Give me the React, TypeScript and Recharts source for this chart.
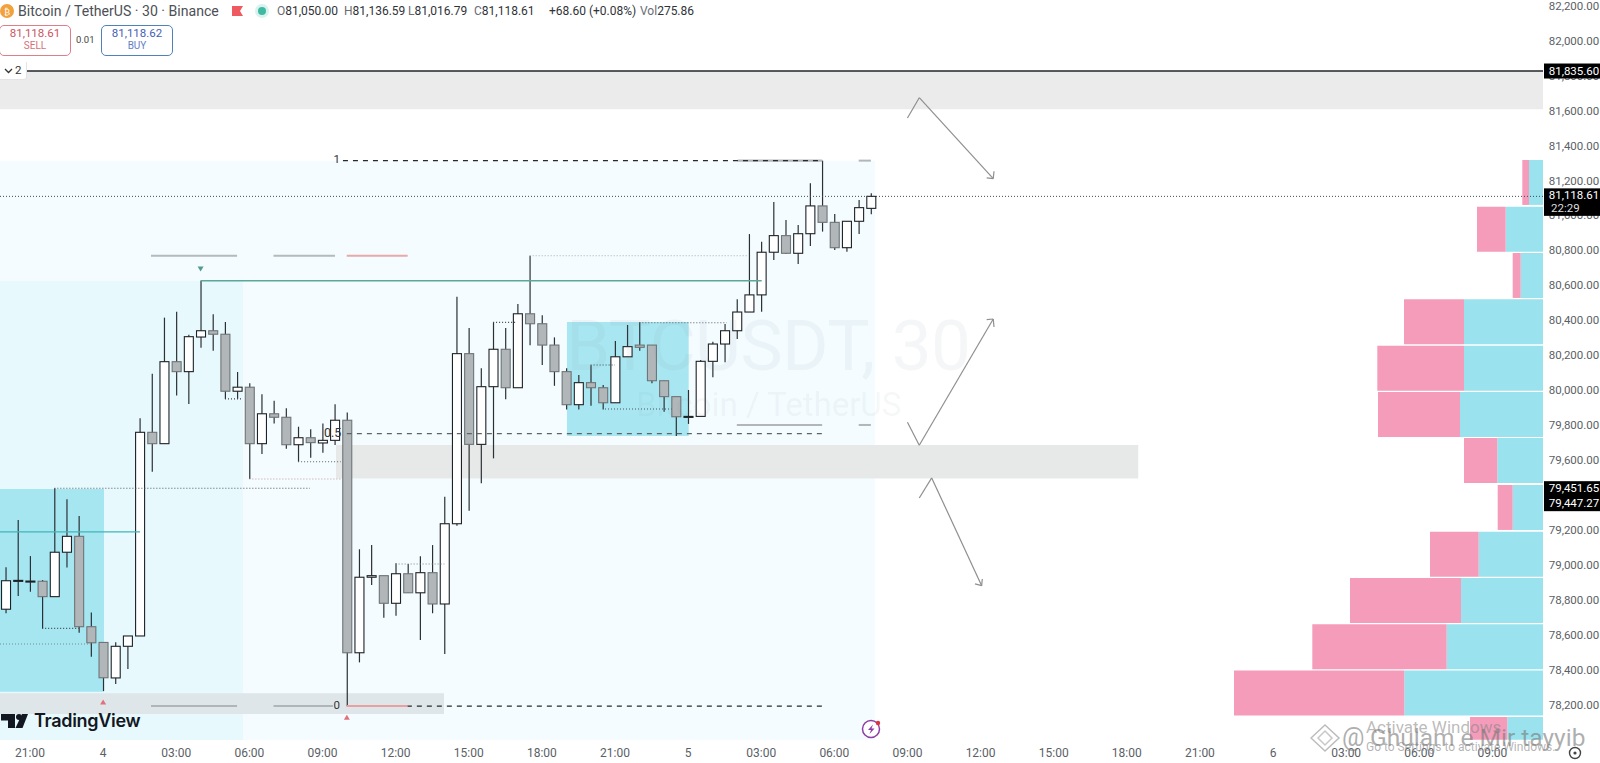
import React from 'react';
import { ComposedChart, Bar, XAxis, YAxis, ReferenceArea, ReferenceLine, ReferenceDot } from 'recharts';

// half-hour candle index, 0 = 21:00 on the 3rd
const firstCandle = -2;
const opens = [
  78757,78918,78915,78917,78829,79083,79174,78657,78567,78364,
  78545,78604,79769,79704,80173,80116,80314,80350,80330,80004,
  80027,79704,79875,79855,79698,79738,79708,79723,79838,78508,
  78940,78949,78791,78960,78851,78966,78787,79246,80219,79700,
  80030,80244,80024,80447,80390,80268,80116,79927,80053,80024,
  79938,80201,80268,80268,80064,79973,79856,79860,80175,80274,
  80350,80457,80555,80799,80894,80793,80905,81064,80970,80825,
  80976,81050,
];
const highs = [
  78997,79267,79061,78924,79449,79386,79290,78739,78567,78568,
  78604,79849,80104,80425,80459,80327,80636,80444,80400,80114,
  80049,79986,79950,79906,79801,79786,79820,79929,79883,79100,
  79124,78949,79020,79016,79060,79124,79401,80545,80366,80135,
  80398,80366,80503,80779,80438,80312,80135,80097,80152,80040,
  80291,80383,80398,80268,80064,79973,80011,80183,80287,80389,
  80530,80903,80859,81087,80984,80955,81194,81323,81018,80976,
  81098,81136.59,
];
const lows = [
  78734,78833,78857,78648,78829,78995,78623,78485,78289,78329,
  78415,78604,79544,79704,79979,79931,80253,80236,79960,79960,
  79502,79645,79820,79675,79601,79624,79652,79696,78203,78453,
  78895,78708,78720,78851,78581,78734,78501,79235,79320,79477,
  79620,79958,80024,80267,80154,80035,79900,79900,79921,79900,
  79938,80201,80236,80049,79887,79748,79817,79860,80084,80170,
  80303,80457,80459,80755,80789,80732,80835,80917,80812,80802,
  80903,81016.79,
];
const closes = [
  78920,78922,78918,78829,79083,79174,78657,78565,78365,78545,
  78604,79769,79704,80173,80116,80316,80350,80330,80004,80027,
  79704,79875,79855,79698,79738,79710,79723,79838,78508,78940,
  78949,78791,78960,78851,78966,78787,79246,80219,79700,80030,
  80244,80024,80447,80390,80268,80116,79927,80053,80024,79938,
  80201,80259,80255,80064,79973,79858,79860,80175,80274,80350,
  80457,80555,80799,80894,80793,80905,81064,80970,80825,80976,
  81054,81118.61,
];

const timeTicks = [0,6,12,18,24,30,36,42,48,54,60,66,72,78,84,90,96,102,108,114,120];
const timeLabels = ['21:00','4','03:00','06:00','09:00','12:00','15:00','18:00','21:00','5','03:00','06:00','09:00','12:00','15:00','18:00','21:00','6','03:00','06:00','09:00'];
const priceTicks = [78200,78400,78600,78800,79000,79200,79400,79600,79800,80000,80200,80400,80600,80800,81000,81200,81400,81600,81800,82000,82200];
const tagPrices = [81835.6, 81118.61, 79449.46];

// volume profile rows
const profileTop = [81326.6,81059.5,80794.6,80529.8,80264.4,79999.6,79736.4,79467.6,79200.5,78935.6,78670.8,78406.5,78140.6];
const profileBottom = [81069.6,80802.5,80537.6,80272.8,80007.4,79742.6,79479.4,79210.6,78943.5,78678.6,78413.8,78149.5,78010];
const profileBuy = [14,37.3,22.3,79,79,83,45.7,30.3,64.3,82,96.3,138.7,35.7];
const profileSell = [6.7,28.7,8,60,86.7,82,33.3,15,48.7,111,134.4,170.3,37.3];

const T0 = -2.4617, T1 = 124.15;
const P0 = 78009, P1 = 82241.8;
// the profile grows leftwards from the right edge of the plot
const volumePerCandle = 12.187;
const volX = (v: number) => T1 - v / volumePerCandle;

const rows = opens.map((o, i) => ({ t: firstCandle + i, o, h: highs[i], l: lows[i], c: closes[i] }));

const Candle = (props: any) => {
  const { x, y, width, height, payload } = props;
  const { o, h, l, c } = payload;
  const k = height / (h - l);
  const py = (p: number) => y + (h - p) * k;
  const cx = x + width / 2;
  const up = c >= o;
  const top = py(Math.max(o, c));
  const bot = py(Math.min(o, c));
  return (
    <g>
      <line x1={cx} x2={cx} y1={y} y2={y + height} stroke="#2b3034" strokeWidth={1.2} />
      <rect x={cx - 4.5} y={top} width={9} height={Math.max(bot - top, 1)} fill={up ? '#ffffff' : '#b1b6b8'} stroke={up ? '#1d2226' : '#6f7477'} strokeWidth={1.1} />
    </g>
  );
};

const fmt = (v: number) => v.toLocaleString('en-US', { minimumFractionDigits: 2, maximumFractionDigits: 2 });

const PriceTick = (props: any) => {
  const { y, payload } = props;
  const v = payload.value;
  const common = { fontFamily: 'Roboto, sans-serif', fontSize: 11.5 };
  if (v === 81835.6) {
    return <g><rect x={1544} y={y - 7.5} width={56} height={15} fill="#000" /><text x={1574} y={y} textAnchor="middle" dominantBaseline="central" fill="#fff" {...common}>81,835.60</text></g>;
  }
  if (v === 81118.61) {
    return <g><rect x={1544} y={y - 8} width={56} height={27.5} fill="#000" /><text x={1574} y={y - 1} textAnchor="middle" dominantBaseline="central" fill="#fff" {...common}>81,118.61</text><text x={1551} y={y + 11.5} dominantBaseline="central" fill="#ddd" {...common}>22:29</text></g>;
  }
  if (v === 79449.46) {
    return <g><rect x={1544} y={y - 7} width={56} height={30} fill="#000" /><text x={1574} y={y} textAnchor="middle" dominantBaseline="central" fill="#fff" {...common}>79,451.65</text><text x={1574} y={y + 15} textAnchor="middle" dominantBaseline="central" fill="#fff" {...common}>79,447.27</text></g>;
  }
  return <text x={1574} y={y - 1.6} textAnchor="middle" dominantBaseline="central" fill="#5b5f66" {...common}>{fmt(v)}</text>;
};

const TimeTick = (props: any) => {
  const { x, payload } = props;
  const label = timeLabels[timeTicks.indexOf(payload.value)];
  return <text x={x} y={752.7} textAnchor="middle" dominantBaseline="central" fill="#5b5f66" fontFamily="Roboto, sans-serif" fontSize={12}>{label}</text>;
};

type Seg = [number, number, number, number, string, number, string?];
const segments: Seg[] = [
  [T0, 81118.61, T1, 81118.61, '#444a50', 1, '1 2'],
  [T0, 81835.6, T1, 81835.6, '#20242a', 1.4],
  [58.07, 81323, 65, 81323, '#b3b6b8', 2.2],
  [25.68, 81323, 65, 81323, '#26292d', 1.1, '5 5'],
  [26, 78203, 65, 78203, '#26292d', 1.1, '5 5'],
  [26, 79761, 65, 79761, '#5e6367', 1.3, '5 5'],
  [14, 80636, 60.04, 80636, '#5aa89a', 1.3],
  [T0, 79200, 9.03, 79200, '#3fb6b8', 1.2],
  [2, 79449, 22.97, 79449, '#50555a', 1.2, '1 2'],
  [1, 78648, 4, 78648, '#40464b', 1.2, '1 2'],
  [T0, 78558, 5, 78558, '#7d8a8e', 1, '1 2'],
  [16, 79960, 17.48, 79960, '#40464b', 1.2, '1 2'],
  [22, 79601, 25.5, 79601, '#5a5f64', 1.1, '1 2'],
  [18, 79502, 25.5, 79502, '#c09a9a', 1.1, '1 2'],
  [41, 80779, 58.8, 80779, '#a9adb0', 1, '1 2'],
  [38, 80398, 39.85, 80398, '#40464b', 1.1, '1 2'],
  [30, 79016, 34, 79016, '#7f8488', 1.1, '1 2'],
  [50, 80396, 57.17, 80396, '#5a5f64', 1.1, '1 2'],
  [46, 80154, 48, 80154, '#40464b', 1.1, '1 2'],
  [47.18, 79902, 52.65, 79902, '#4c5156', 1.1, '1 2'],
  [9.93, 80779, 16.99, 80779, '#b5babb', 2],
  [19.98, 80779, 25.03, 80779, '#b5babb', 2],
  [25.99, 80779, 30.99, 80779, '#e8a9a9', 2],
  [9.93, 78203, 16.99, 78203, '#b0b6b8', 2],
  [19.98, 78203, 24.86, 78203, '#b0b6b8', 2],
  [25.99, 78203, 30.99, 78203, '#e8a0a0', 2],
  [58, 79811, 65, 79811, '#b3b6b8', 2],
  [68, 79811, 69, 79811, '#b3b6b8', 2],
  [68, 81323, 69, 81323, '#b3b6b8', 2],
  // arrows
  [72, 81567, 72.97, 81683, '#8f8f8f', 1.2],
  [72.97, 81683, 79.04, 81220, '#8f8f8f', 1.2],
  [79.1, 81262, 79.04, 81220, '#8f8f8f', 1.2],
  [78.5, 81224, 79.04, 81220, '#8f8f8f', 1.2],
  [72, 79827, 72.97, 79695, '#8f8f8f', 1.2],
  [72.97, 79695, 79.04, 80417, '#8f8f8f', 1.2],
  [78.5, 80414, 79.04, 80417, '#8f8f8f', 1.2],
  [79.1, 80371, 79.04, 80417, '#8f8f8f', 1.2],
  [72.97, 79393, 73.99, 79508, '#8f8f8f', 1.2],
  [73.99, 79508, 78.09, 78892, '#8f8f8f', 1.2],
  [77.54, 78902, 78.09, 78892, '#8f8f8f', 1.2],
  [78.14, 78930, 78.09, 78892, '#8f8f8f', 1.2],
];

type Zone = [number, number, number, number, string];
const zones: Zone[] = [
  [T0, 69.34, P0, 81323, '#f4fcff'],
  [T0, 17.48, P0, 80636, '#e8f9fe'],
  [T0, 6.07, 78285, 79445, '#a5e6f1'],
  [44.06, 54.05, 79748, 80400, '#a8e7f1'],
  [T0, T1, 81616.6, 81835.6, '#ebebeb'],
  [25.11, 90.94, 79504.8, 79696.4, '#e7e9e9'],
  [T0, 33.97, 78158, 78276, '#dfe6ea'],
];

const Tri = (color: string, down: boolean) => (props: any) => {
  const { cx, cy } = props;
  const d = down ? `M${cx - 3} ${cy - 2.5}H${cx + 3}L${cx} ${cy + 2.5}Z` : `M${cx - 3} ${cy + 2.5}H${cx + 3}L${cx} ${cy - 2.5}Z`;
  return <path d={d} fill={color} />;
};

const abs = (style: React.CSSProperties): React.CSSProperties => ({ position: 'absolute', whiteSpace: 'nowrap', fontFamily: 'Roboto, sans-serif', lineHeight: 1, ...style });

const Ohlc = ({ x, k, v }: { x: number; k: string; v: string }) => (
  <div style={abs({ left: x, top: 5, fontSize: 12, color: '#2f3338' })}><span style={{ color: '#6a6d73' }}>{k}</span>{v}</div>
);

export default function App() {
  return (
    <div style={{ position: 'absolute', left: 0, top: 0, width: 1600, height: 763, overflow: 'hidden', background: '#fff' }}>
      <ComposedChart width={1600} height={763} data={rows} margin={{ top: 0, right: 0, bottom: 0, left: 0 }} barSize={9}>
        <XAxis dataKey="t" type="number" scale="linear" domain={[T0, T1]} allowDataOverflow ticks={timeTicks} interval={0} height={23} axisLine={false} tickLine={false} tick={<TimeTick />} />
        <YAxis orientation="right" width={57} type="number" domain={[P0, P1]} allowDataOverflow ticks={[...priceTicks, ...tagPrices]} interval={0} axisLine={false} tickLine={false} tick={<PriceTick />} />
        {zones.map((z, i) => (
          <ReferenceArea key={'z' + i} x1={z[0]} x2={z[1]} y1={z[2]} y2={z[3]} fill={z[4]} fillOpacity={1} stroke="none" ifOverflow="visible" />
        ))}
        {profileTop.map((top, i) => (
          <ReferenceArea key={'b' + i} x1={volX(profileBuy[i])} x2={T1} y1={profileBottom[i]} y2={top} fill="#9ae3ee" fillOpacity={1} stroke="none" ifOverflow="visible" />
        ))}
        {profileTop.map((top, i) => (
          <ReferenceArea key={'s' + i} x1={volX(profileBuy[i] + profileSell[i])} x2={volX(profileBuy[i])} y1={profileBottom[i]} y2={top} fill="#f49cba" fillOpacity={1} stroke="none" ifOverflow="visible" />
        ))}
        <Bar dataKey={(d: any) => [d.l, d.h]} shape={<Candle />} isAnimationActive={false} />
        {segments.map((s, i) => (
          <ReferenceLine key={'l' + i} segment={[{ x: s[0], y: s[1] }, { x: s[2], y: s[3] }]} stroke={s[4]} strokeWidth={s[5]} strokeDasharray={s[6]} ifOverflow="visible" />
        ))}
        <ReferenceDot x={14} y={80703} r={3} shape={Tri('#4f9d8f', true)} ifOverflow="visible" />
        <ReferenceDot x={6} y={78226} r={3} shape={Tri('#e0707c', false)} ifOverflow="visible" />
        <ReferenceDot x={26} y={78139} r={3} shape={Tri('#e0707c', false)} ifOverflow="visible" />
      </ComposedChart>

      {/* chart watermark */}
      <div style={abs({ left: 566, top: 310, fontSize: 71, letterSpacing: -0.6, color: 'rgba(120,135,150,0.075)' })}>BTCUSDT, 30</div>
      <div style={abs({ left: 636, top: 388, fontSize: 33, color: 'rgba(120,135,150,0.08)' })}>Bitcoin / TetherUS</div>

      {/* fib labels */}
      <div style={abs({ left: 333.5, top: 154, fontSize: 11.5, color: '#333' })}>1</div>
      <div style={abs({ left: 324, top: 427, fontSize: 12.5, color: '#333' })}>0.5</div>
      <div style={abs({ left: 333.5, top: 700, fontSize: 11.5, color: '#333' })}>0</div>

      {/* header */}
      <svg style={{ position: 'absolute', left: 0, top: 0 }} width={300} height={24}>
        <circle cx={7} cy={11} r={7} fill="#f2a13c" />
        <text x={7} y={14.5} textAnchor="middle" fontSize={9} fill="#fff" fontFamily="Roboto">₿</text>
        <path d="M232 6H243L240 11L243 16H232Z" fill="#ee5a5f" />
        <circle cx={262} cy={11} r={7} fill="#d8f3ee" />
        <circle cx={262} cy={11} r={4} fill="#3fb9a1" />
      </svg>
      <div style={abs({ left: 18, top: 4, fontSize: 14.1, color: '#4d5056' })}>Bitcoin / TetherUS · 30 · Binance</div>
      <Ohlc x={277} k="O" v="81,050.00" />
      <Ohlc x={344} k="H" v="81,136.59" />
      <Ohlc x={408} k="L" v="81,016.79" />
      <Ohlc x={474} k="C" v="81,118.61" />
      <div style={abs({ left: 549, top: 5, fontSize: 12, color: '#2f3338' })}>+68.60 (+0.08%)</div>
      <Ohlc x={640} k="Vol" v="275.86" />

      <div style={{ position: 'absolute', left: -1, top: 25, width: 70, height: 29, border: '1px solid #dc7f8a', borderRadius: 5, background: '#fff' }} />
      <div style={abs({ left: 0, width: 70, textAlign: 'center', top: 28, fontSize: 11.5, color: '#c9545f' })}>81,118.61</div>
      <div style={abs({ left: 0, width: 70, textAlign: 'center', top: 41, fontSize: 10, color: '#d66f78' })}>SELL</div>
      <div style={abs({ left: 76, top: 35, fontSize: 9.5, color: '#444' })}>0.01</div>
      <div style={{ position: 'absolute', left: 101, top: 25, width: 70, height: 29, border: '1px solid #4f82b8', borderRadius: 5, background: '#fff' }} />
      <div style={abs({ left: 101, width: 72, textAlign: 'center', top: 28, fontSize: 11.5, color: '#3f62b5' })}>81,118.62</div>
      <div style={abs({ left: 101, width: 72, textAlign: 'center', top: 41, fontSize: 10, color: '#5f7fc4' })}>BUY</div>

      <div style={{ position: 'absolute', left: 0, top: 62, width: 26, height: 17, background: '#fff', borderRight: '1px solid #e4e4e4', borderBottom: '1px solid #e4e4e4', borderRadius: '0 0 3px 0' }} />
      <svg style={{ position: 'absolute', left: 4, top: 67 }} width={10} height={8}><path d="M1 2L4.5 5.5L8 2" fill="none" stroke="#333" strokeWidth={1.3} /></svg>
      <div style={abs({ left: 15, top: 65, fontSize: 11.5, color: '#333' })}>2</div>

      {/* logo */}
      <svg style={{ position: 'absolute', left: 0, top: 0 }} width={32} height={740}>
        <path d="M1 714H15V728H8V720.5H1Z" fill="#131722" />
        <circle cx={19} cy={717} r={3} fill="#131722" />
        <path d="M22 714H28L22.5 728H15.5Z" fill="#131722" />
      </svg>
      <div style={abs({ left: 34, top: 712, fontSize: 18, fontWeight: 600, color: '#131722', fontFamily: 'Inter, sans-serif', letterSpacing: -0.3 })}>TradingView</div>

      {/* badge */}
      <svg style={{ position: 'absolute', left: 858, top: 716 }} width={28} height={28}>
        <circle cx={13} cy={13} r={8.5} fill="#fff" stroke="#8e3fa5" strokeWidth={1.5} />
        <path d="M15 8.5L10 14H13L11.5 18L16.5 12.5H13.5Z" fill="#8e3fa5" />
        <circle cx={20} cy={7} r={2.2} fill="#d9363e" />
      </svg>

      {/* settings icon and signature */}
      <svg style={{ position: 'absolute', left: 1310, top: 720 }} width={290} height={43}>
        <path d="M13 5L27 18L13 31L-1 18Z" transform="translate(2 0)" fill="none" stroke="#bcbcbc" strokeWidth={1.5} />
        <path d="M15 11L22 18L15 25L8 18Z" fill="none" stroke="#c8c8c8" strokeWidth={1.5} />
        <circle cx={265} cy={33} r={5.5} fill="none" stroke="#444" strokeWidth={1.4} />
        <circle cx={265} cy={33} r={1.6} fill="#444" />
      </svg>
      <div style={abs({ left: 1366, top: 719, fontSize: 17, color: 'rgba(130,130,130,0.55)' })}>Activate Windows</div>
      <div style={abs({ left: 1366, top: 741, fontSize: 12, color: 'rgba(130,130,130,0.6)' })}>Go to Settings to activate Windows.</div>
      <div style={abs({ left: 1342, top: 725, fontSize: 25, color: 'rgba(120,120,120,0.6)' })}>@</div>
      <div style={abs({ left: 1370, top: 726, fontSize: 24.5, color: 'rgba(120,120,120,0.6)' })}>Ghulam e Mir tayyib</div>
    </div>
  );
}
